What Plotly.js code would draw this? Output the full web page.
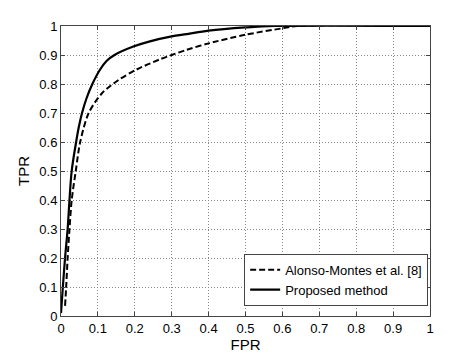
<!DOCTYPE html>
<html><head><meta charset="utf-8">
<script src="https://cdn.plot.ly/plotly-3.0.1.min.js"></script>
<style>body{margin:0;background:#fff}#c{width:474px;height:354px}</style>
</head><body><div id="c"></div>
<script>
const alonsoFPR = [0.011,0.014,0.018,0.023,0.029,0.04,0.052,0.075,0.111,0.156,0.205,0.268,0.3,0.341,0.4,0.5,0.6,0.64,1.0];
const alonsoTPR = [0.035,0.1,0.2,0.3,0.4,0.5,0.6,0.7,0.768,0.814,0.85,0.885,0.9,0.918,0.94,0.97,0.992,1.0,1.0];
const propFPR = [0.0,0.005,0.011,0.018,0.023,0.029,0.041,0.048,0.057,0.069,0.085,0.106,0.124,0.145,0.196,0.241,0.3,0.341,0.4,0.5,0.58,1.0];
const propTPR = [0.01,0.1,0.2,0.3,0.4,0.5,0.6,0.65,0.7,0.75,0.8,0.85,0.88,0.9,0.929,0.947,0.964,0.972,0.984,0.995,1.0,1.0];
const ticks = [0,0.1,0.2,0.3,0.4,0.5,0.6,0.7,0.8,0.9,1];
const tickText = ['0','0.1','0.2','0.3','0.4','0.5','0.6','0.7','0.8','0.9','1'];
const names = ['Alonso-Montes et al. [8]','Proposed method'];

const traces = [
 {x: alonsoFPR, y: alonsoTPR, name: names[0], mode:'lines', line:{color:'#000', width:2, dash:'6px,3px', shape:'spline', smoothing:0.8}},
 {x: propFPR, y: propTPR, name: names[1], mode:'lines', line:{color:'#000', width:2.2, shape:'spline', smoothing:1}}
];
const ax = {
  range:[0,1], tickvals: ticks, ticktext: tickText, ticks:'inside', ticklen:4, tickcolor:'#444',
  showline:true, linecolor:'#444', linewidth:1, mirror:'ticks',
  showgrid:true, gridcolor:'#888', griddash:'1px,2px', gridwidth:1, zeroline:false,
  tickfont:{family:'Liberation Sans, Arial, sans-serif', size:13, color:'#000'}
};
const layout = {
  width:474, height:354, margin:{l:61, r:44, t:26, b:38},
  paper_bgcolor:'#fff', plot_bgcolor:'#fff', showlegend:true,
  font:{family:'Liberation Sans, Arial, sans-serif', color:'#000'},
  xaxis: Object.assign({}, ax, {title:{text:'FPR', font:{size:15}, standoff:2}}),
  yaxis: Object.assign({}, ax, {title:{text:'TPR', font:{size:15}, standoff:6}}),
  legend:{x:0.995, y:0.035, xanchor:'right', yanchor:'bottom', bgcolor:'#fff', bordercolor:'#444', borderwidth:1,
    font:{size:13, family:'Liberation Sans, Arial, sans-serif'}, tracegroupgap:0, itemwidth:30}
};
Plotly.newPlot('c', traces, layout, {displayModeBar:false, staticPlot:true});
</script></body></html>
